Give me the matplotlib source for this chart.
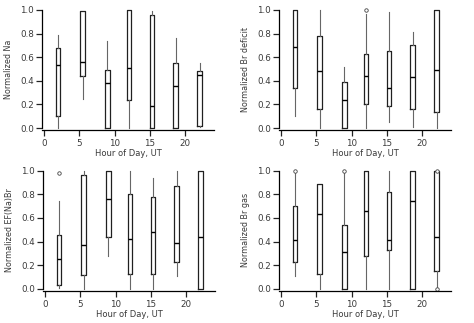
import matplotlib
matplotlib.use("Agg")
import matplotlib.pyplot as plt

# Hour-of-day bins (UT) for each box
hours = [2, 5.5, 9, 12, 15.3, 18.6, 22]
xticks = [0, 5, 10, 15, 20]
yticks = [0.0, 0.2, 0.4, 0.6, 0.8, 1.0]

# Normalized Na
na_low = [0.0, 0.25, 0.0, 0.0, 0.0, 0.0, 0.005]
na_q1 = [0.10, 0.44, 0.0, 0.24, 0.0, 0.0, 0.02]
na_med = [0.53, 0.56, 0.38, 0.51, 0.19, 0.36, 0.45]
na_q3 = [0.68, 0.99, 0.49, 1.0, 0.96, 0.55, 0.48]
na_high = [0.79, 0.99, 0.74, 1.0, 0.995, 0.76, 0.55]
na_out = [[], [], [], [], [], [], []]

# Normalized Br deficit
bd_low = [0.10, 0.0, 0.0, 0.0, 0.05, 0.01, 0.0]
bd_q1 = [0.34, 0.16, 0.0, 0.20, 0.19, 0.16, 0.14]
bd_med = [0.69, 0.48, 0.24, 0.44, 0.34, 0.43, 0.49]
bd_q3 = [1.0, 0.78, 0.39, 0.63, 0.65, 0.70, 1.0]
bd_high = [1.0, 1.0, 0.52, 0.97, 0.98, 0.81, 1.0]
bd_out = [[], [], [], [1.0], [], [], []]

# Normalized EF(Na)Br
ef_low = [0.01, 0.0, 0.28, 0.0, 0.0, 0.11, 0.0]
ef_q1 = [0.03, 0.12, 0.44, 0.13, 0.13, 0.23, 0.0]
ef_med = [0.25, 0.37, 0.76, 0.42, 0.48, 0.39, 0.44]
ef_q3 = [0.46, 0.96, 1.0, 0.80, 0.78, 0.87, 1.0]
ef_high = [0.74, 1.0, 1.0, 1.0, 0.94, 1.0, 1.0]
ef_out = [[0.98], [], [], [], [], [], []]

# Normalized Br gas
bg_low = [0.11, 0.0, 0.0, 0.0, 0.0, 0.0, 0.0]
bg_q1 = [0.23, 0.13, 0.0, 0.28, 0.33, 0.0, 0.15]
bg_med = [0.41, 0.63, 0.31, 0.66, 0.41, 0.74, 0.44]
bg_q3 = [0.70, 0.89, 0.54, 1.0, 0.82, 1.0, 1.0]
bg_high = [0.98, 0.89, 0.98, 1.0, 1.0, 1.0, 1.0]
bg_out = [[1.0], [], [1.0], [], [], [], [1.0, 0.0]]

panels = [
    ("Normalized Na", na_low, na_q1, na_med, na_q3, na_high, na_out),
    ("Normalized Br deficit", bd_low, bd_q1, bd_med, bd_q3, bd_high, bd_out),
    ("Normalized EF(Na)Br", ef_low, ef_q1, ef_med, ef_q3, ef_high, ef_out),
    ("Normalized Br gas", bg_low, bg_q1, bg_med, bg_q3, bg_high, bg_out),
]

W, H = 474, 323
fig = plt.figure(figsize=(W / 100, H / 100), dpi=100)
fig.patch.set_facecolor("white")

# axes rectangles in pixels: left, top, width, height
rects = [
    (42.3, 7.6, 171.5, 122.8),
    (279.3, 7.6, 171.5, 122.8),
    (43.3, 168.3, 171.5, 123.0),
    (279.3, 168.3, 171.5, 123.0),
]

fs = 6.3
txt = "#3a3a3a"
for (label, lo, q1, med, q3, hi, out), (l, t, w, h) in zip(panels, rects):
    ax = fig.add_axes([l / W, 1 - (t + h) / H, w / W, h / H])
    stats = []
    for i in range(len(hours)):
        stats.append(dict(whislo=lo[i], q1=q1[i], med=med[i], q3=q3[i],
                          whishi=hi[i], fliers=out[i]))
    ax.bxp(stats, positions=hours, widths=0.62, showcaps=False,
           patch_artist=False,
           boxprops=dict(color="#202020", linewidth=0.9),
           whiskerprops=dict(color="#666666", linewidth=0.8),
           medianprops=dict(color="black", linewidth=1.0),
           flierprops=dict(marker="o", markersize=2.5, markerfacecolor="white",
                           markeredgecolor="#444444", markeredgewidth=0.6))
    ax.set_xlim(-0.2, 24)
    ax.set_ylim(-0.02, 1.02)
    ax.set_xticks(xticks)
    ax.set_xticklabels([str(v) for v in xticks])
    ax.set_yticks(yticks)
    ax.set_yticklabels(["%.1f" % v for v in yticks])
    for s in ("top", "right"):
        ax.spines[s].set_visible(False)
    ax.spines["left"].set_bounds(0, 1)
    ax.spines["left"].set_linewidth(0.9)
    ax.spines["bottom"].set_linewidth(0.9)
    ax.tick_params(axis="both", labelsize=fs, length=4, width=0.9,
                   pad=2, colors="#222222", labelcolor=txt)
    ax.set_xlabel("Hour of Day, UT", fontsize=6.0, labelpad=1, color=txt)
    ax.set_ylabel(label, fontsize=5.8, labelpad=5, color=txt)
    ax.set_facecolor("white")

fig.savefig("out.png", dpi=100, facecolor="white")
